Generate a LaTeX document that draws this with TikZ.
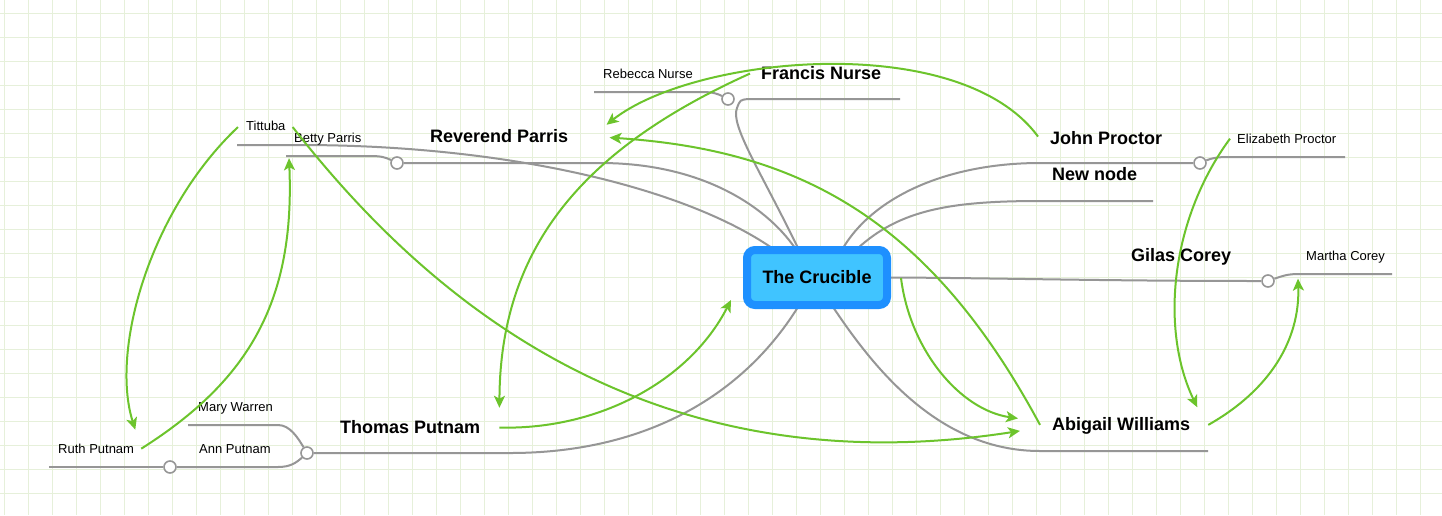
\documentclass[tikz,border=0pt]{standalone}
\usepackage{fontspec}
\setmainfont{Liberation Sans}
\usetikzlibrary{arrows.meta, positioning, calc, backgrounds}

\definecolor{gridgreen}{RGB}{230,240,218}
\definecolor{linkgray}{RGB}{150,150,150}
\definecolor{relgreen}{RGB}{108,196,44}
\definecolor{rootblue}{RGB}{30,144,255}
\definecolor{rootfill}{RGB}{64,196,255}

\begin{document}
\begin{tikzpicture}[
        x=1pt, y=-1pt,
        root/.style={rectangle, draw=rootblue, fill=rootfill, line width=8pt, rounded corners=8pt, minimum width=140pt, minimum height=55pt, inner sep=0pt, font=\fontsize{18}{20}\selectfont\bfseries},
        topic/.style={anchor=base west, inner sep=0pt, font=\fontsize{18}{20}\selectfont\bfseries},
        sub/.style={anchor=base west, inner sep=0pt, font=\fontsize{13}{15}\selectfont},
        branch/.style={draw=linkgray, line width=2pt},
        knob/.style={circle, draw=linkgray, fill=white, line width=1.6pt, minimum size=12pt, inner sep=0pt},
        rel/.style={draw=relgreen, line width=2pt, -{Stealth[length=12pt, width=11pt, inset=3pt]}},
        gridline/.style={draw=gridgreen, line width=1pt}
    ]
    \useasboundingbox (0,0) rectangle (1442,515);

    % Central topic
    \node[root] (root) at (817,277.5) {The Crucible};

    % Left side
    \node[sub] (tittuba) at (246,130.7) {Tittuba};
    \node[sub] (betty) at (294,142.3) {Betty Parris};
    \node[topic] (parris) at (430,142) {Reverend Parris};
    \node[sub] (rebecca) at (603,78) {Rebecca Nurse};
    \node[topic] (francis) at (761,79) {Francis Nurse};
    \node[topic] (thomas) at (340,433) {Thomas Putnam};
    \node[sub] (mary) at (198,411) {Mary Warren};
    \node[sub] (ann) at (199,453.3) {Ann Putnam};
    \node[sub] (ruth) at (58,453.3) {Ruth Putnam};

    % Right side
    \node[topic] (proctor) at (1050,144) {John Proctor};
    \node[sub] (elizabeth) at (1237,143.3) {Elizabeth Proctor};
    \node[topic] (newnode) at (1052,180) {New node};
    \node[topic] (giles) at (1131,261.5) {Gilas Corey};
    \node[sub] (martha) at (1306,260.7) {Martha Corey};
    \node[topic] (abigail) at (1052,430.5) {Abigail Williams};

    % Collapse knobs
    \node[knob] (k-parris) at (397,163) {};
    \node[knob] (k-francis) at (728,99) {};
    \node[knob] (k-proctor) at (1200,163) {};
    \node[knob] (k-giles) at (1268,281) {};
    \node[knob] (k-thomas) at (307,453) {};
    \node[knob] (k-ann) at (170,467) {};

    \begin{pgfonlayer}{background}
    % Grid paper
    \fill[white] (0,0) rectangle (1442,515);
    \foreach \x in {4,28,...,1444}
        \draw[gridline] (\x,0) -- (\x,515);
    \foreach \y in {13,37,...,517}
        \draw[gridline] (0,\y) -- (1442,\y);

    % Branches
    \draw[branch] ($(root.north)+(-45,2)$) .. controls (680,185) and (500,145) .. (300,145) -- (237,145);
    \draw[branch] ($(root.north)+(-22,2)$) .. controls (765,205) and (700,163) .. (600,163) -- (k-parris);
    \draw[branch] (k-parris) .. controls (385,157) and (380,156) .. (370,156) -- (286,156);
    \draw[branch] ($(root.north)+(-19,2)$) .. controls (760,170) and (730,125) .. (737,108) .. controls (740,100) .. (748,99) -- (900,99);
    \draw[branch] (k-francis) .. controls (718,94) and (713,92) .. (703,92) -- (594,92);
    \draw[branch] ($(root.north)+(26,2)$) .. controls (875,195) and (950,163) .. (1040,163) -- (k-proctor);
    \draw[branch] (k-proctor) .. controls (1212,158) and (1218,157) .. (1228,157) -- (1345,157);
    \draw[branch] ($(root.north)+(41,2)$) .. controls (900,210) and (950,201) .. (1040,201) -- (1153,201);
    \draw[branch] (root.east) .. controls (1000,278) and (1100,281) .. (k-giles);
    \draw[branch] (k-giles) .. controls (1282,276) and (1288,274) .. (1298,274) -- (1392,274);
    \draw[branch] ($(root.south)+(16,-2)$) .. controls (875,370) and (940,451) .. (1040,451) -- (1208,451);
    \draw[branch] ($(root.south)+(-19,-2)$) .. controls (740,400) and (640,453) .. (510,453) -- (k-thomas);
    \draw[branch] (k-thomas) .. controls (298,438) and (290,425) .. (278,425) -- (188,425);
    \draw[branch] (k-thomas) .. controls (296,463) and (290,467) .. (278,467) -- (k-ann);
    \draw[branch] (k-ann) -- (49,467);
    \end{pgfonlayer}

    % Relationships
    \draw[rel] ($(tittuba.west)+(-8,1)$) .. controls (150,210) and (110,350) .. ($(ruth.north east)+(1,-14)$);
    \draw[rel] ($(ruth.east)+(7,0)$) .. controls (250,380) and (295,300) .. ($(betty.south west)+(-5,13)$);
    \draw[rel] ($(tittuba.east)+(7,1)$) .. controls (420,290) and (640,490) .. ($(abigail.west)+(-32,5)$);
    \draw[rel] ($(francis.west)+(-11,1)$) .. controls (580,150) and (500,250) .. ($(thomas.north east)+(19,-12)$);
    \draw[rel] ($(proctor.west)+(-12,-1)$) .. controls (960,30) and (695,55) .. ($(parris.north east)+(38,-4)$);
    \draw[rel] ($(abigail.west)+(-12,-1)$) .. controls (930,220) and (800,150) .. ($(parris.east)+(41,2)$);
    \draw[rel] ($(thomas.east)+(19,1)$) .. controls (600,430) and (690,380) .. ($(root.south west)+(-12,-9)$);
    \draw[rel] ($(root.east)+(10,0.5)$) .. controls (910,350) and (960,410) .. ($(abigail.west)+(-34,-7.5)$);
    \draw[rel] ($(elizabeth.west)+(-7,0)$) .. controls (1170,220) and (1160,330) .. ($(abigail.north east)+(7,-10)$);
    \draw[rel] ($(abigail.east)+(18,-1)$) .. controls (1270,390) and (1300,340) .. ($(martha.south west)+(-8,15)$);

    \end{tikzpicture}
\end{document}
